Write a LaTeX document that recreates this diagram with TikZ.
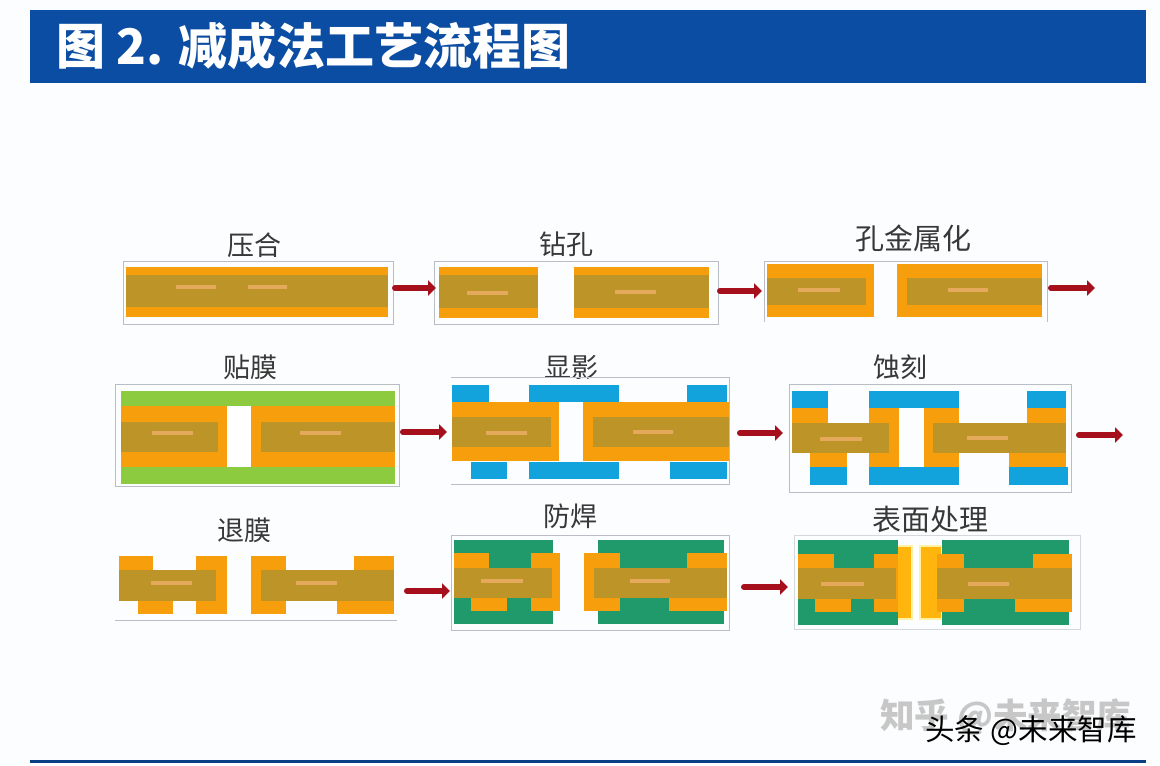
\documentclass[tikz,border=0pt]{standalone}
\usepackage{fontspec}
\usetikzlibrary{arrows.meta}
\newfontfamily\cjk{Noto Sans CJK SC}
\definecolor{bandblue}{HTML}{0B4DA2}
\definecolor{linedark}{HTML}{0A3F86}
\definecolor{paper}{HTML}{FCFDFE}
\definecolor{copper}{HTML}{F79E0C}
\definecolor{core}{HTML}{BC9428}
\definecolor{trace}{HTML}{E5A95C}
\definecolor{film}{HTML}{8CCB3F}
\definecolor{resist}{HTML}{12A3DD}
\definecolor{mask}{HTML}{209A6B}
\definecolor{gold}{HTML}{FFB40E}
\definecolor{glow}{HTML}{FFF2A6}
\definecolor{framegray}{HTML}{B9BDC5}
\definecolor{arrowred}{HTML}{A5101C}
\tikzset{
  frame/.style={draw=framegray,line width=1pt},
  tracebar/.style={draw=trace,line width=3.5pt},
  stage/.style={inner sep=0pt,text=black!78,font=\cjk\fontsize{27}{27}\selectfont},
  flow/.style={draw=arrowred,line width=6pt,line cap=round,-{Triangle[length=8pt,width=15pt]}},
}
\begin{document}
\begin{tikzpicture}[x=1pt,y=-1pt]
  \useasboundingbox (0,0) rectangle (1160,766);
  \fill[paper] (0,0) rectangle (1160,766);
  \fill[bandblue] (30,10) rectangle (1146,83);
  \node[inner sep=0pt,anchor=west,text=white,font=\cjk\fontsize{49}{49}\selectfont\bfseries] (title) at (56,46) {图 2. 减成法工艺流程图};
  \draw[linedark,line width=3pt] (30,761.5) -- (1146,761.5);

  \node[stage] (press) at (254,245) {压合};
  \node[stage] (drill) at (566,244) {钻孔};
  \node[stage,font=\cjk\fontsize{29}{29}\selectfont] (plate) at (913,238) {孔金属化};
  \node[stage] (laminate) at (250,367) {贴膜};
  \node[stage] (develop) at (571,367) {显影};
  \node[stage] (etch) at (900,367) {蚀刻};
  \node[stage] (strip) at (244,530) {退膜};
  \node[stage] (solder) at (570,516) {防焊};
  \node[stage,font=\cjk\fontsize{29}{29}\selectfont] (finish) at (930,519) {表面处理};

  \draw[frame] (123,261) rectangle (393,324);
  \fill[copper] (126,267) rectangle (388,317);
  \fill[core  ] (126,275) rectangle (388,307);
  \draw[tracebar] (176,287) -- (216,287);
  \draw[tracebar] (248,287) -- (287,287);

  \draw[frame] (434,261) rectangle (718,324);
  \fill[copper] (439,267) rectangle (538,318);
  \fill[copper] (574,267) rectangle (709,318);
  \fill[core  ] (439,275) rectangle (538,308);
  \fill[core  ] (574,275) rectangle (709,308);
  \draw[tracebar] (467,293) -- (508,293);
  \draw[tracebar] (615,292) -- (656,292);

  \draw[frame] (764,322) -- (764,261) -- (1047,261) -- (1047,322);
  \fill[copper] (767,264) rectangle (874,317);
  \fill[copper] (897,264) rectangle (1042,317);
  \fill[core  ] (767,278) rectangle (866,305);
  \fill[core  ] (907,278) rectangle (1042,305);
  \draw[tracebar] (798,290) -- (840,290);
  \draw[tracebar] (948,290) -- (988,290);

  \draw[frame] (115,384) rectangle (399,486);
  \fill[film  ] (121,391) rectangle (395,484);
  \fill[copper] (121,406) rectangle (395,467);
  \fill[white ] (227,406) rectangle (251,467);
  \fill[core  ] (121,422) rectangle (218,452);
  \fill[core  ] (261,422) rectangle (395,452);
  \draw[tracebar] (152,433) -- (193,433);
  \draw[tracebar] (300,433) -- (341,433);

  \draw[frame] (451,377) -- (729,377) -- (729,484) -- (451,484);
  \fill[resist] (452,385) rectangle (489,402);
  \fill[resist] (529,385) rectangle (619,402);
  \fill[resist] (687,385) rectangle (727,402);
  \fill[resist] (471,462) rectangle (507,479);
  \fill[resist] (529,462) rectangle (619,479);
  \fill[resist] (670,462) rectangle (727,479);
  \fill[copper] (452,402) rectangle (559,461);
  \fill[copper] (583,402) rectangle (729,461);
  \fill[core  ] (452,417) rectangle (551,447);
  \fill[core  ] (593,417) rectangle (729,447);
  \draw[tracebar] (486,433) -- (527,433);
  \draw[tracebar] (633,432) -- (673,432);

  \draw[frame] (789,384) rectangle (1071,492);
  \fill[resist] (792,391) rectangle (828,408);
  \fill[resist] (869,391) rectangle (959,408);
  \fill[resist] (1027,391) rectangle (1066,408);
  \fill[resist] (810,467) rectangle (847,485);
  \fill[resist] (869,467) rectangle (959,485);
  \fill[resist] (1009,467) rectangle (1068,485);
  \fill[copper] (792,408) rectangle (828,423);
  \fill[copper] (810,453) rectangle (847,467);
  \fill[copper] (869,408) rectangle (899,467);
  \fill[copper] (924,408) rectangle (959,467);
  \fill[copper] (1027,408) rectangle (1066,423);
  \fill[copper] (1009,453) rectangle (1066,467);
  \fill[core  ] (792,423) rectangle (889,453);
  \fill[core  ] (933,423) rectangle (1066,453);
  \draw[tracebar] (820,439) -- (862,439);
  \draw[tracebar] (967,438) -- (1008,438);

  \draw[frame] (115,620) -- (397,620);
  \fill[copper] (119,556) rectangle (153,570);
  \fill[copper] (196,556) rectangle (227,614);
  \fill[copper] (138,601) rectangle (173,614);
  \fill[copper] (251,556) rectangle (286,614);
  \fill[copper] (354,556) rectangle (394,570);
  \fill[copper] (337,601) rectangle (394,614);
  \fill[core  ] (119,570) rectangle (216,601);
  \fill[core  ] (261,570) rectangle (394,601);
  \draw[tracebar] (151,583) -- (192,583);
  \draw[tracebar] (296,583) -- (337,583);

  \draw[frame] (451,535) rectangle (729,630);
  \fill[mask  ] (454,540) rectangle (553,624);
  \fill[mask  ] (598,540) rectangle (724,624);
  \fill[copper] (454,553) rectangle (489,568);
  \fill[copper] (531,553) rectangle (560,611);
  \fill[copper] (471,598) rectangle (507,611);
  \fill[copper] (584,553) rectangle (620,611);
  \fill[copper] (687,553) rectangle (727,568);
  \fill[copper] (669,598) rectangle (727,611);
  \fill[core  ] (454,568) rectangle (552,598);
  \fill[core  ] (594,568) rectangle (727,598);
  \draw[tracebar] (481,581) -- (523,581);
  \draw[tracebar] (630,581) -- (670,581);

  \draw[frame,draw=framegray!60] (794,535) rectangle (1080,629);
  \fill[glow  ] (896,545) rectangle (943,620);
  \fill[white ] (913,545) rectangle (919,620);
  \fill[mask  ] (798,540) rectangle (898,625);
  \fill[mask  ] (942,540) rectangle (1069,625);
  \fill[gold  ] (898,547) rectangle (911,618);
  \fill[gold  ] (921,547) rectangle (941,618);
  \fill[copper] (798,554) rectangle (834,568);
  \fill[copper] (874,554) rectangle (898,612);
  \fill[copper] (815,599) rectangle (851,612);
  \fill[copper] (937,554) rectangle (964,612);
  \fill[copper] (1033,554) rectangle (1072,568);
  \fill[copper] (1015,599) rectangle (1072,612);
  \fill[core  ] (798,568) rectangle (896,599);
  \fill[core  ] (937,568) rectangle (1072,599);
  \draw[tracebar] (821,584) -- (864,584);
  \draw[tracebar] (968,584) -- (1009,584);

  \coordinate (s1) at (395,288);  \coordinate (e1) at (436,288);
  \coordinate (s2) at (720,291);  \coordinate (e2) at (762,291);
  \coordinate (s3) at (1051,288); \coordinate (e3) at (1095,288);
  \coordinate (s4) at (403,432);  \coordinate (e4) at (447,432);
  \coordinate (s5) at (740,433);  \coordinate (e5) at (783,433);
  \coordinate (s6) at (1079,435); \coordinate (e6) at (1123,435);
  \coordinate (s7) at (407,591);  \coordinate (e7) at (450,591);
  \coordinate (s8) at (744,587);  \coordinate (e8) at (788,587);
  \draw[flow] (s1) -- (e1);
  \draw[flow] (s2) -- (e2);
  \draw[flow] (s3) -- (e3);
  \draw[flow] (s4) -- (e4);
  \draw[flow] (s5) -- (e5);
  \draw[flow] (s6) -- (e6);
  \draw[flow] (s7) -- (e7);
  \draw[flow] (s8) -- (e8);

  \node[inner sep=0pt,anchor=west,text=black!22,font=\cjk\fontsize{34.5}{34.5}\selectfont\bfseries] (zhihu) at (880,717) {知乎 @未来智库};
  \node[inner sep=0pt,anchor=west,text=black,font=\cjk\fontsize{29.5}{29.5}\selectfont] (toutiao) at (925,731) {头条 @未来智库};
\end{tikzpicture}
\end{document}
